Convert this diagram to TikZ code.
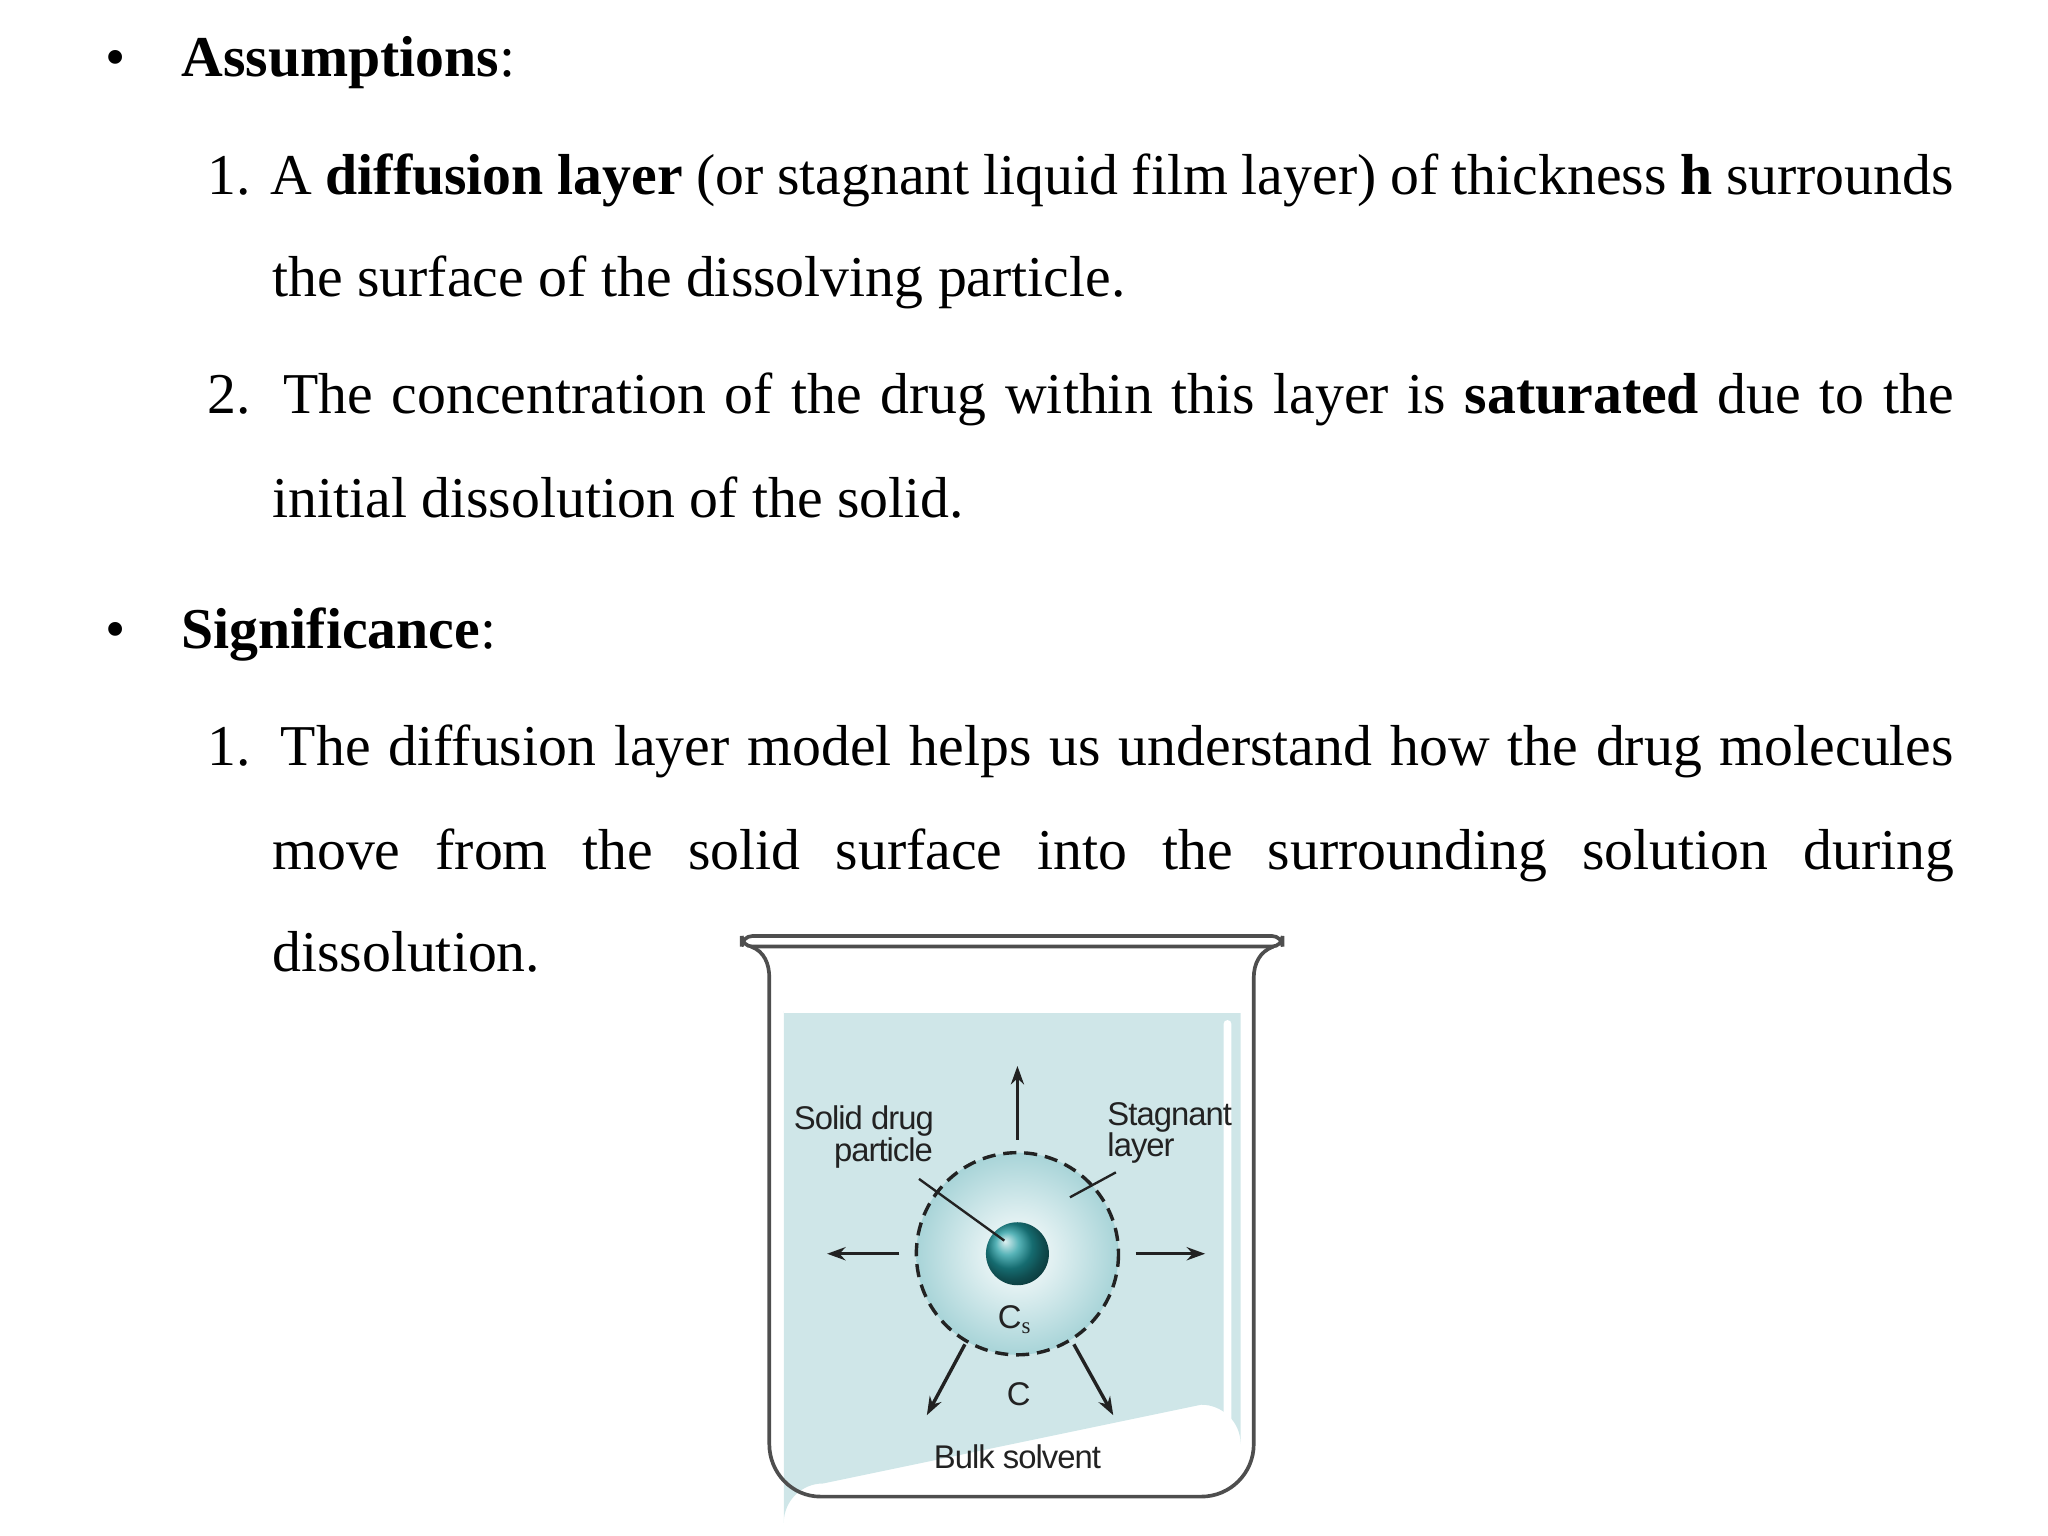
\documentclass[tikz,border=0pt]{standalone}
\usepackage{fontspec}
\setmainfont{Liberation Serif}
\newfontfamily\figfont{Liberation Sans}
\usetikzlibrary{arrows.meta}
\definecolor{liquid}{HTML}{CFE6E8}
\definecolor{layerc}{HTML}{A8D4D8}
\definecolor{ballc}{HTML}{1F9AA0}
\definecolor{ink}{HTML}{222222}
\tikzset{
  txt/.style={anchor=base west,inner sep=0pt,font=\fontsize{22}{26}\selectfont},
  lbl/.style={inner sep=0pt,align=center,font=\figfont\fontsize{12.5}{14}\selectfont\addfontfeatures{LetterSpace=-3},text=ink},
  flow/.style={-{Stealth[length=7pt,width=5pt]},line width=1.3pt,ink},
  wall/.style={line width=1.4pt,draw=ink!80}
}
\begin{document}
\begin{tikzpicture}[x=0.5pt,y=-0.5pt]
\useasboundingbox (0,0) rectangle (1560,1170);
% text
\node[txt] (b1) at (80,58) {\textbullet};
\node[txt] (t1) at (138,58) {\textbf{Assumptions}:};
\node[txt] (n1) at (158,148) {\makebox[665pt][s]{1. A \textbf{diffusion layer} (or stagnant liquid film layer) of thickness \textbf{h} surrounds}};
\node[txt] (n1b) at (207,226) {the surface of the dissolving particle.};
\node[txt] (n2) at (158,315) {\makebox[665pt][s]{2. The concentration of the drug within this layer is \textbf{saturated} due to the}};
\node[txt] (n2b) at (207,394) {initial dissolution of the solid.};
\node[txt] (b2) at (80,494) {\textbullet};
\node[txt] (t2) at (138,494) {\textbf{Significance}:};
\node[txt] (s1) at (158,583) {\makebox[665pt][s]{1. The diffusion layer model helps us understand how the drug molecules}};
\node[txt] (s1b) at (207,662) {\makebox[640.5pt][s]{move from the solid surface into the surrounding solution during}};
\node[txt] (s1c) at (207,740) {dissolution.};
% beaker liquid
\fill[liquid] (597,770) -- (945,770) -- (945,1100) arc[start angle=0,end angle=90,radius=30,y radius=-30] -- (627,1130) arc[start angle=90,end angle=180,radius=30,y radius=-30] -- cycle;
\draw[white,line width=3pt,line cap=round] (935,780) -- (935,1090) to[out=90,in=-45] (918,1120);
\draw[white,line width=2pt] (597,770) -- (945,770);
% beaker
\draw[wall,fill=white,rounded corners=4] (565,713) rectangle (977,721);
\draw[wall] (572,721) to[out=-20,in=90] (586,745) -- (586,1100) to[out=-90,in=180] (625,1140) -- (915,1140) to[out=0,in=-90] (955,1100) -- (955,745) to[out=90,in=200] (970,721);
% stagnant layer
\shade[inner color=white,outer color=layerc] (775,955) circle[radius=77];
\draw[ink,line width=1.3pt,dash pattern=on 5pt off 3pt] (775,955) circle[radius=77];
\shade[ball color=ballc] (775,955) circle[radius=24];
\coordinate (ctr) at (775,955);
% arrows
\coordinate (uA) at (775,868); \coordinate (uB) at (775,812);
\coordinate (lA) at (685,955); \coordinate (lB) at (630,955);
\coordinate (rA) at (865,955); \coordinate (rB) at (918,955);
\coordinate (dlA) at (735,1024); \coordinate (dlB) at (706,1078);
\coordinate (drA) at (818,1024); \coordinate (drB) at (848,1078);
\draw[flow] (uA) -- (uB);
\draw[flow] (lA) -- (lB);
\draw[flow] (rA) -- (rB);
\draw[flow] (dlA) -- (dlB);
\draw[flow] (drA) -- (drB);
% labels
\node[lbl] (solid) at (658,866) {Solid drug\\[-2pt]\hspace*{1.2em}particle};
\node[lbl,align=left] (stag) at (891,863) {Stagnant\\[-2pt]layer};
\node[lbl] (cs) at (773,1005) {C$_{\mathrm{s}}$};
\node[lbl] (c) at (776,1062) {C};
\node[lbl] (bulk) at (775,1110) {Bulk solvent};
\coordinate (pA) at (700,898); \coordinate (pB) at (765,945);
\coordinate (qA) at (815,912); \coordinate (qB) at (850,893);
\draw[ink,line width=0.9pt] (pA) -- (pB);
\draw[ink,line width=0.9pt] (qA) -- (qB);
\end{tikzpicture}
\end{document}
